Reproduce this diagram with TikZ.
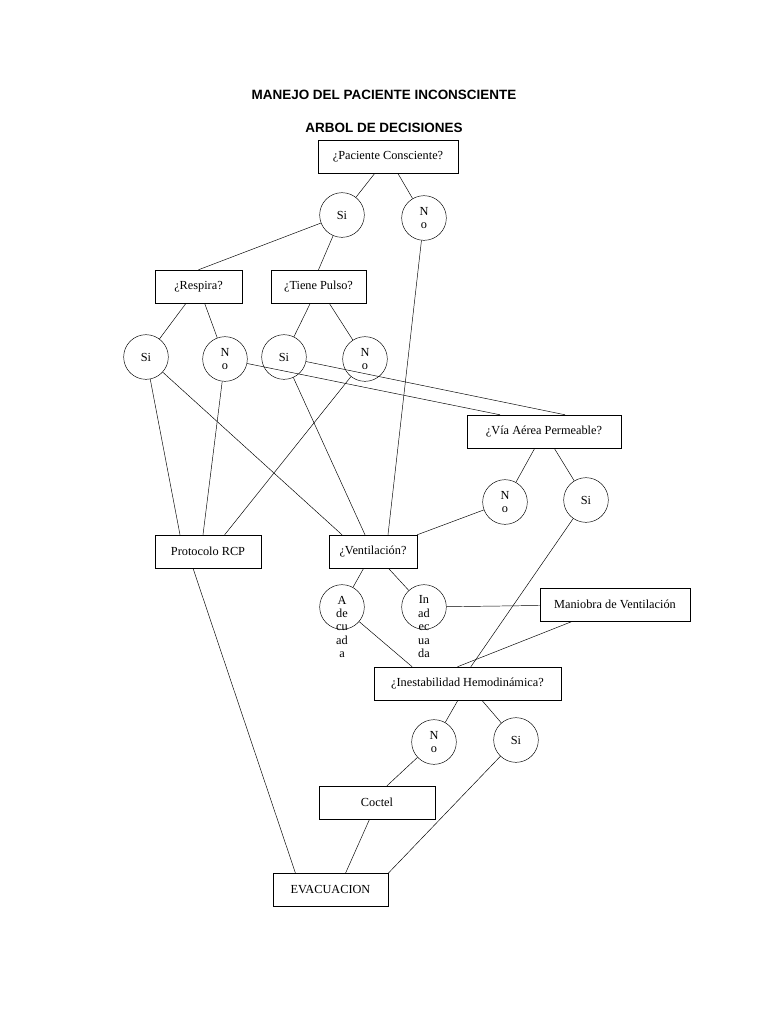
\documentclass[tikz,border=0pt]{standalone}
\usepackage{fontspec}
\setmainfont{Liberation Serif}
\newfontfamily\titlefont{Liberation Sans}
\usetikzlibrary{positioning}

\begin{document}
\begin{tikzpicture}[x=0.03cm, y=-0.03cm, font=\fontsize{10.5}{12}\selectfont,
		box/.style={draw, rectangle, minimum height=0.99cm},
		c/.style={draw, circle, minimum size=1.34cm, inner sep=0pt, align=center, font=\fontsize{10.5}{11.5}\selectfont},
		t/.style={font=\titlefont\bfseries\fontsize{11.5}{13}\selectfont}]
		\useasboundingbox (0,0) rectangle (768,1024);
		\node [t] (T1) at (384,95) {MANEJO DEL PACIENTE INCONSCIENTE};
		\node [t] (T2) at (384,128) {ARBOL DE DECISIONES};

		\node [box, minimum width=4.2cm] (PC) at (388,156.5) {¿Paciente Consciente?};
		\node [c] (S0) at (342,215) {Si};
		\node [c] (N0) at (424,218) {N\\o};
		\node [box, minimum width=2.61cm] (RE) at (198.5,286.5) {¿Respira?};
		\node [box, minimum width=2.85cm] (TP) at (318.5,286.5) {¿Tiene Pulso?};
		\node [c] (S1) at (146,357) {Si};
		\node [c] (N1) at (225,359) {N\\o};
		\node [c] (S2) at (284,357) {Si};
		\node [c] (N2) at (365,359) {N\\o};
		\node [box, minimum width=4.62cm] (VA) at (544,431.5) {¿Vía Aérea Permeable?};
		\node [c] (N3) at (505,502) {N\\o};
		\node [c] (S3) at (586,500) {Si};
		\node [box, minimum width=3.18cm] (RCP) at (208,551.5) {Protocolo RCP};
		\node [box, minimum width=2.64cm] (VE) at (373,551.5) {¿Ventilación?};
		\node [c, label={[anchor=north, align=center, yshift=-0.22cm, font=\fontsize{10.5}{11.5}\selectfont]north:A\\de\\cu\\ad\\a}] (AD) at (342,607) {};
		\node [c, label={[anchor=north, align=center, yshift=-0.22cm, font=\fontsize{10.5}{11.5}\selectfont]north:In\\ad\\ec\\ua\\da}] (IN) at (424,607) {};
		\node [box, minimum width=4.5cm] (MV) at (615,604.5) {Maniobra de Ventilación};
		\node [box, minimum width=5.61cm, fill=white] (IH) at (467.5,683.5) {¿Inestabilidad Hemodinámica?};
		\node [c] (N4) at (434,742) {N\\o};
		\node [c] (S4) at (516,740) {Si};
		\node [box, minimum width=3.48cm] (CO) at (377,802.5) {Coctel};
		\node [box, minimum width=3.45cm] (EV) at (330.5,890) {EVACUACION};

		\draw (PC) -- (S0);
		\draw (PC) -- (N0);
		\draw (S0) -- (RE.north);
		\draw (S0) -- (TP.north);
		\draw (N0) -- ([xshift=0.45cm]VE.north);
		\draw (RE) -- (S1);
		\draw (RE) -- (N1);
		\draw (TP) -- (S2);
		\draw (TP) -- (N2);
		\draw (S1) -- ([xshift=-0.84cm]RCP.north);
		\draw (S1) -- ([xshift=-0.93cm]VE.north);
		\draw (N1) -- ([xshift=-0.15cm]RCP.north);
		\draw (N1) -- ([xshift=-1.32cm]VA.north);
		\draw (S2) -- ([xshift=-0.24cm]VE.north);
		\draw (S2) -- ([xshift=0.63cm]VA.north);
		\draw (N2) -- ([xshift=0.5cm]RCP.north);
		\draw (VA) -- (N3);
		\draw (VA) -- (S3);
		\draw (N3) -- (VE.north east);
		\draw (S3) -- ([xshift=0.1cm]IH.north);
		\draw (VE) -- (AD);
		\draw (VE) -- (IN);
		\draw (AD) -- ([xshift=-1.66cm]IH.north);
		\draw (IN) -- (MV);
		\draw (MV) -- ([xshift=-0.3cm]IH.north);
		\draw (IH) -- (N4);
		\draw (IH) -- (S4);
		\draw (N4) -- ([xshift=0.3cm]CO.north);
		\draw (S4) -- (EV.north east);
		\draw (CO) -- ([xshift=0.45cm]EV.north);
		\draw ([xshift=-0.45cm]RCP.south) -- ([xshift=-1.05cm]EV.north);
	\end{tikzpicture}
\end{document}
